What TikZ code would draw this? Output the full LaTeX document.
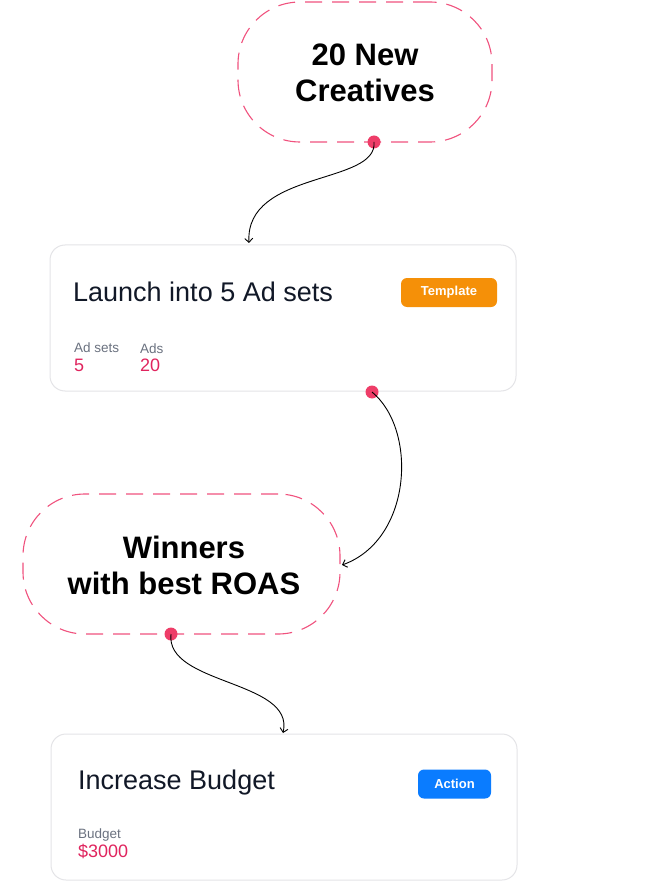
\documentclass[tikz,border=0pt]{standalone}
\usepackage{fontspec}
\setmainfont{Liberation Sans}
\usetikzlibrary{arrows.meta}
\definecolor{pinkdash}{HTML}{F0527E}
\definecolor{dotpink}{HTML}{EE3D68}
\definecolor{cardline}{HTML}{E4E4E7}
\definecolor{titlecol}{HTML}{111827}
\definecolor{labelgray}{HTML}{6B7280}
\definecolor{valred}{HTML}{E0245E}
\definecolor{tplorange}{HTML}{F59008}
\definecolor{actblue}{HTML}{0A7CFF}
\tikzset{
  pill/.style={draw=pinkdash, line width=1.1pt, dash pattern=on 17pt off 10pt, rounded corners=62pt, inner sep=0pt},
  pilltext/.style={font=\fontsize{31}{36}\selectfont\bfseries, align=center, text=black},
  card/.style={draw=cardline, line width=1pt, rounded corners=15pt, fill=white, inner sep=0pt},
  cardtitle/.style={font=\fontsize{27}{30}\selectfont, text=titlecol, anchor=base west, inner sep=0pt},
  badge/.style={rounded corners=6pt, inner sep=0pt, text=white, font=\fontsize{13}{15}\selectfont\bfseries},
  lbl/.style={font=\fontsize{13.5}{15}\selectfont, text=labelgray, anchor=base west, inner sep=0pt},
  val/.style={font=\fontsize{18}{20}\selectfont, text=valred, anchor=base west, inner sep=0pt},
  dotnode/.style={circle, fill=dotpink, minimum size=13pt, inner sep=0pt},
  conn/.style={draw=black, line width=0.9pt, -{Straight Barb[length=4pt,width=8pt]}}
}
\begin{document}
\begin{tikzpicture}[x=1pt,y=-1pt]
\useasboundingbox (0,0) rectangle (648,882);
% pills
\node[pill, minimum width=254pt, minimum height=140pt] (p1) at (365,72) {};
\node[pilltext] (p1t) at (365,73) {20 New\\Creatives};
\node[pill, minimum width=317pt, minimum height=140pt] (p2) at (181.5,564) {};
\node[pilltext] (p2t) at (184,565) {Winners\\with best ROAS};
% cards
\node[card, minimum width=466pt, minimum height=146pt] (c1) at (283,318) {};
\node[cardtitle] (c1t) at (73,301) {Launch into 5 Ad sets};
\node[badge, fill=tplorange, minimum width=96pt, minimum height=29pt] (b1) at (449,292.5) {Template};
\node[lbl] (l1) at (74,352) {Ad sets};
\node[val] (v1) at (74,371) {5};
\node[lbl] (l2) at (140,353) {Ads};
\node[val] (v2) at (140,371) {20};
\node[card, minimum width=466pt, minimum height=146pt] (c2) at (284,807) {};
\node[cardtitle] (c2t) at (78,789) {Increase Budget};
\node[badge, fill=actblue, minimum width=73pt, minimum height=29pt] (b2) at (454.5,784) {Action};
\node[lbl] (l3) at (78,838) {Budget};
\node[val] (v3) at (78,857) {\$3000};
% dots
\node[dotnode] (d1) at (374,142) {};
\node[dotnode] (d2) at (372,392) {};
\node[dotnode] (d3) at (171,634) {};
% connector ends
\coordinate (e1) at (249,243);
\coordinate (e2) at (342,565);
\coordinate (e3) at (283,733);
% connectors
\draw[conn] (d1.center) .. controls (378,185) and (245,170) .. (e1);
\draw[conn] (d2.center) .. controls (418,430) and (412,540) .. (e2);
\draw[conn] (d3.center) .. controls (165,685) and (295,680) .. (e3);
\end{tikzpicture}
\end{document}
